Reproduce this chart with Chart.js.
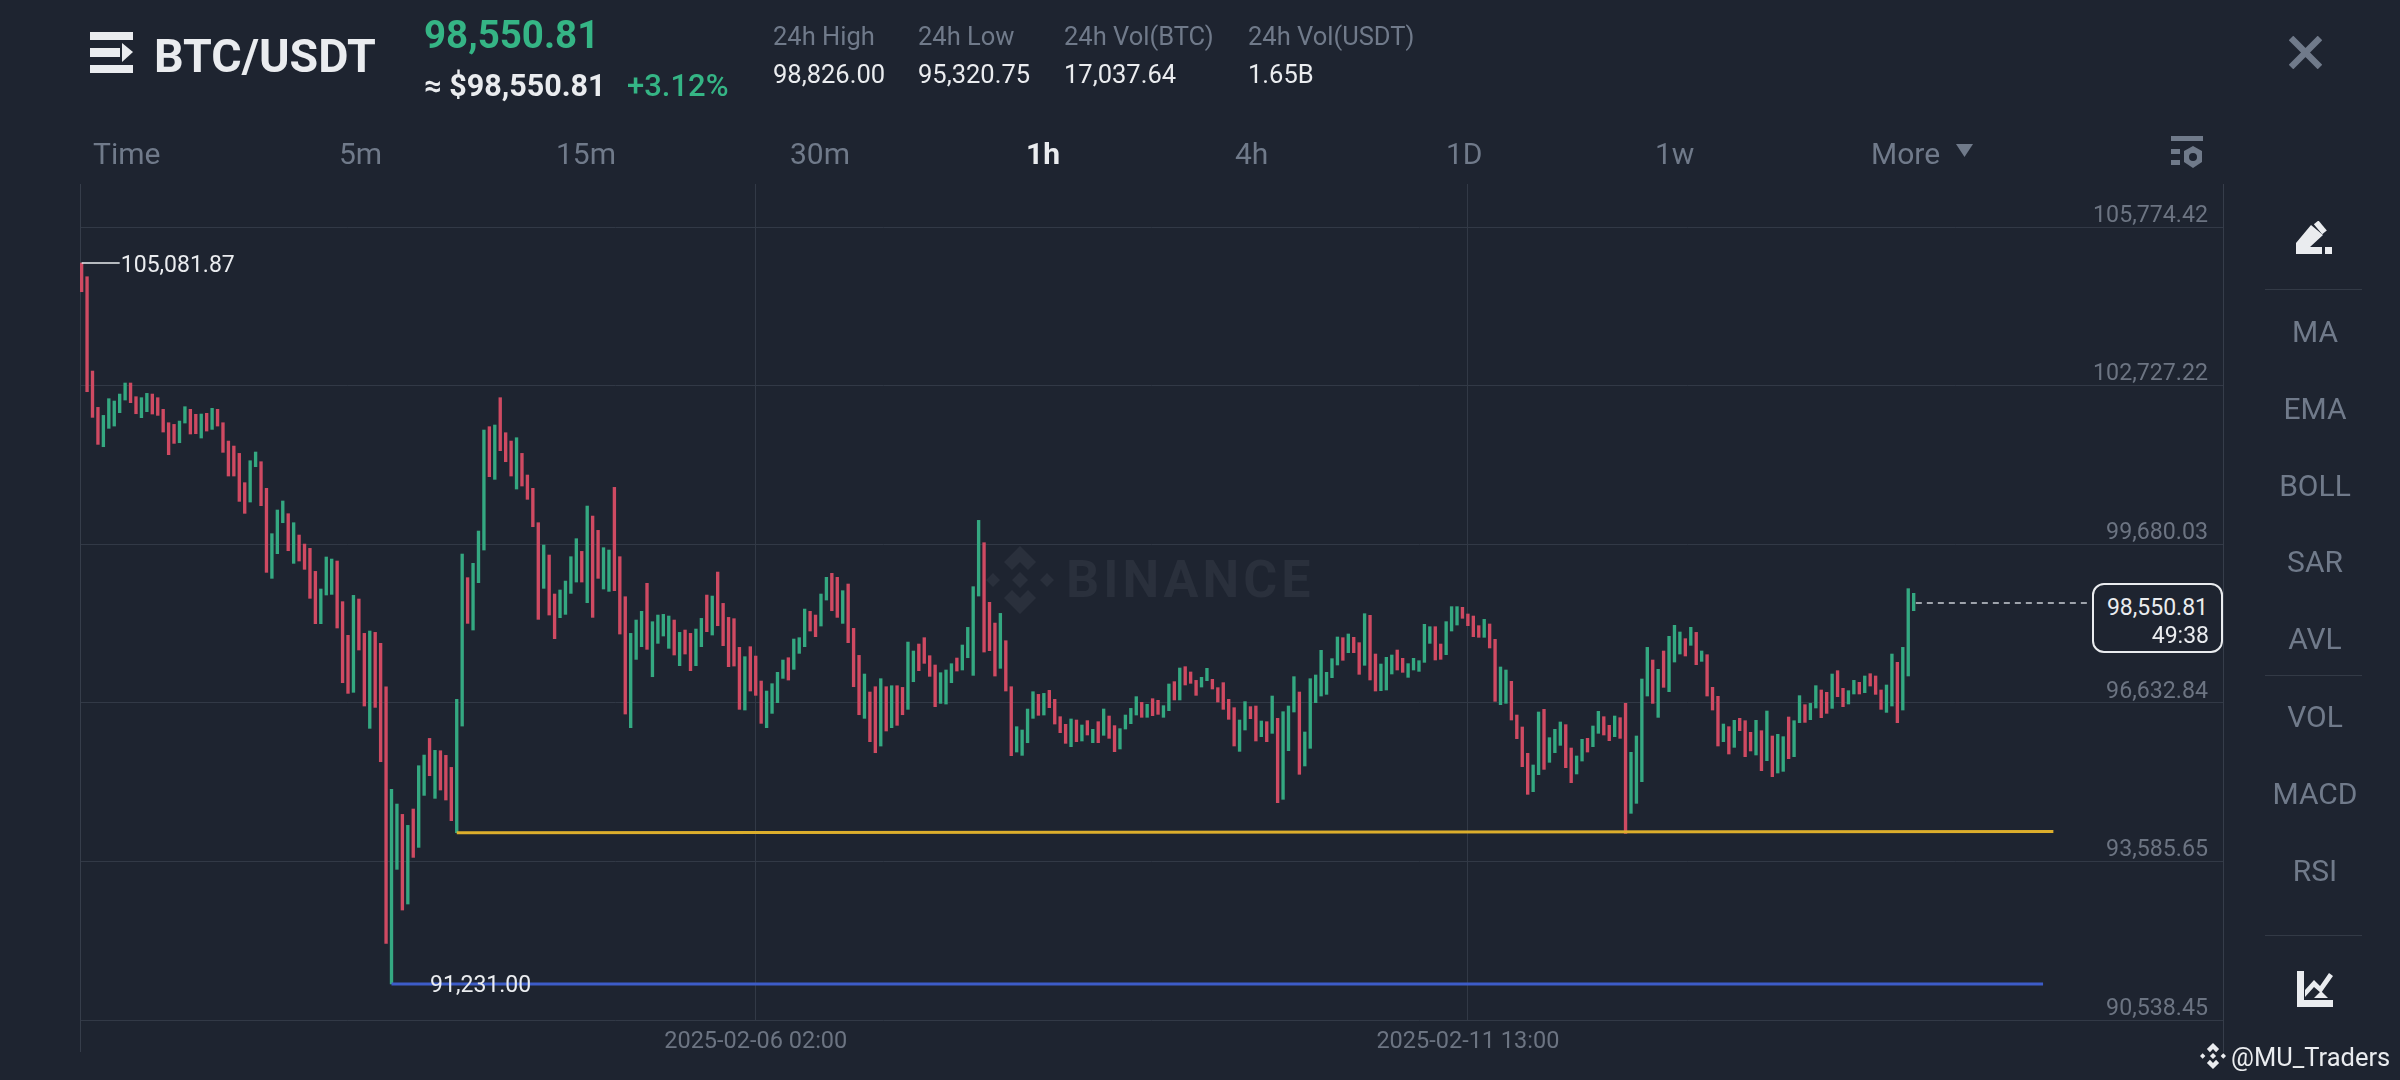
<!DOCTYPE html>
<html>
<head>
<meta charset="utf-8">
<title>BTC/USDT</title>
<script src="https://cdn.jsdelivr.net/npm/chart.js@4"></script>
<style>
  html, body { margin: 0; padding: 0; background: #1e2430; }
  body { width: 2400px; height: 1080px; overflow: hidden; position: relative; font-family: Roboto, sans-serif; color: #eaecef; }
  canvas { position: absolute; left: 0; top: 0; }
  .t { position: absolute; white-space: nowrap; transform: translateY(-50%); line-height: 1.2; }
  .g { color: #707a8a; }
  .tab { font-size: 30px; color: #707a8a; top: 153.5px; }
  .lbl { font-size: 25.5px; color: #707a8a; top: 36px; }
  .val { font-size: 25.5px; top: 74px; }
  .side { font-size: 30px; color: #707a8a; left: 2215px; width: 200px; text-align: center; }
  .hr { position: absolute; left: 2265px; width: 97px; height: 1px; background: #333a46; }
  svg { position: absolute; }
  #box { position: absolute; left: 2092px; top: 583px; width: 127px; height: 66px; border: 2px solid #eaecef; border-radius: 12px; background: #1e2430; }
</style>
</head>
<body>
<!-- watermark under the canvas -->
<svg style="left:986px;top:546px" width="68" height="68" viewBox="0 0 68 68" fill="#2a303c">
  <path d="M34 0 L50 16 L42 24 L34 16 L26 24 L18 16 Z M34 68 L18 52 L26 44 L34 52 L42 44 L50 52 Z M0 34 L7 27 L14 34 L7 41 Z M54 34 L61 27 L68 34 L61 41 Z M34 26 L42 34 L34 42 L26 34 Z"/>
</svg>
<div class="t" style="left:1066px;top:580px;font-size:52px;font-weight:700;color:#2a303c;letter-spacing:4px">BINANCE</div>

<canvas id="chart" width="2400" height="1080"></canvas>

<svg style="left:90px;top:32px" width="43" height="41" viewBox="0 0 43 41" fill="#eaecef">
  <rect x="0" y="0" width="43" height="8"/><rect x="0" y="16" width="30" height="9"/><path d="M32 11 L43 20 L32 30 Z"/><rect x="0" y="33" width="43" height="8"/>
</svg>
<div class="t" style="left:154px;top:57px;font-size:46.5px;font-weight:700">BTC/USDT</div>
<div class="t" style="left:424px;top:35px;font-size:38.5px;font-weight:700;color:#35b585">98,550.81</div>
<div class="t" style="left:424px;top:86px;font-size:30.5px;font-weight:700">≈ $98,550.81</div>
<div class="t" style="left:627px;top:86px;font-size:31px;font-weight:500;color:#35b585">+3.12%</div>

<div class="t lbl" style="left:773px">24h High</div>
<div class="t val" style="left:773px">98,826.00</div>
<div class="t lbl" style="left:918px">24h Low</div>
<div class="t val" style="left:918px">95,320.75</div>
<div class="t lbl" style="left:1064px">24h Vol(BTC)</div>
<div class="t val" style="left:1064px">17,037.64</div>
<div class="t lbl" style="left:1248px">24h Vol(USDT)</div>
<div class="t val" style="left:1248px">1.65B</div>

<div class="t tab" style="left:93px">Time</div>
<div class="t tab" style="left:339px">5m</div>
<div class="t tab" style="left:556px">15m</div>
<div class="t tab" style="left:790px">30m</div>
<div class="t tab" style="left:1026px;color:#eaecef;font-weight:700">1h</div>
<div class="t tab" style="left:1235px">4h</div>
<div class="t tab" style="left:1446px">1D</div>
<div class="t tab" style="left:1655px">1w</div>
<div class="t tab" style="left:1871px">More</div>
<svg style="left:1956px;top:144px" width="17" height="13" viewBox="0 0 17 13" fill="#707a8a"><path d="M0 0 H17 L8.5 13 Z"/></svg>
<svg style="left:2171px;top:136px" width="32" height="32" viewBox="0 0 32 32" fill="#707a8a">
  <rect x="0" y="0" width="32" height="5"/><rect x="0" y="13" width="9" height="5"/><rect x="0" y="24" width="9" height="5"/>
  <path fill-rule="evenodd" d="M22 10 L31 15 V26 L22 32 L13 26 V15 Z M22 17 A4 4 0 1 0 22.01 25 A4 4 0 1 0 22 17 Z"/>
</svg>
<svg style="left:2289px;top:36px" width="33" height="33" viewBox="0 0 33 33" stroke="#707a8a" stroke-width="6.5"><path d="M2 2 L31 31 M31 2 L2 31"/></svg>

<svg style="left:2296px;top:221px" width="37" height="33" viewBox="0 0 37 33" fill="#eaecef">
  <path d="M0 33 V22 L15 4 L27 14 L14 26 H26 V33 Z"/><rect x="21" y="0" width="6" height="13" transform="rotate(-40 24 6)"/><rect x="29" y="26" width="7" height="7"/>
</svg>
<div class="hr" style="top:289px"></div>
<div class="t side" style="top:332px">MA</div>
<div class="t side" style="top:409px">EMA</div>
<div class="t side" style="top:486px">BOLL</div>
<div class="t side" style="top:562px">SAR</div>
<div class="t side" style="top:639px">AVL</div>
<div class="hr" style="top:675px"></div>
<div class="t side" style="top:717px">VOL</div>
<div class="t side" style="top:794px">MACD</div>
<div class="t side" style="top:871px">RSI</div>
<div class="hr" style="top:935px"></div>
<svg style="left:2297px;top:971px" width="36" height="36" viewBox="0 0 36 36" fill="#eaecef">
  <path d="M0 0 H7 V29 H36 V36 H0 Z"/><path d="M8 19 L17 9 L23 15 L32 2 L36 5 L24 22 L17 16 L8 26 Z"/><path d="M17 27 L24 20 L31 27 Z"/>
</svg>

<div id="box"></div>
<div class="t" style="right:192px;top:608px;font-size:23px">98,550.81</div>
<div class="t" style="right:191px;top:636px;font-size:23px">49:38</div>

<svg style="left:2200px;top:1043px" width="26" height="26" viewBox="0 0 68 68" fill="#eaecef">
  <path d="M34 0 L50 16 L42 24 L34 16 L26 24 L18 16 Z M34 68 L18 52 L26 44 L34 52 L42 44 L50 52 Z M0 34 L7 27 L14 34 L7 41 Z M54 34 L61 27 L68 34 L61 41 Z M34 26 L42 34 L34 42 L26 34 Z"/>
</svg>
<div class="t" style="left:2231px;top:1057px;font-size:25.5px">@MU_Traders</div>

<script>
// hourly bars (high / low of each bar)
const highs = [
  105081.87,104819,103007,102309,102155,102476,102431,102565,102777,102777,
  102514,102495,102578,102565,102495,102271,102014,101982,102046,102322,
  102271,102175,102181,102194,102290,102271,102014,101662,101566,101425,
  100862,101284,101451,101265,100753,99882,100337,100510,100266,100093,
  99856,99683,99600,99158,98819,99434,99395,99357,98576,97929,
  98697,98627,97967,98012,97986,97775,96942,94969,94688,94489,
  94278,94592,95424,95629,95949,95719,95712,95623,95392,96699,
  99491,99037,99312,99933,101874,101938,101970,102495,101822,101662,
  101726,101425,101009,100753,100093,99664,99472,98723,98800,98972,
  99440,99786,99542,100413,100221,99946,99613,99568,100772,99440,
  98671,97967,98223,98390,98928,98191,98319,98332,98300,98223,
  97986,98031,97967,98050,98255,98703,98684,99145,98543,98274,
  98249,97698,97519,97711,97531,97051,96859,97000,97218,97455,
  97499,97858,97884,98434,98390,98319,98723,99043,99120,99043,
  98787,98915,98063,97544,97186,96840,96942,97096,96942,96961,
  96961,96929,97800,97628,97762,97884,97538,97359,97211,97263,
  97384,97493,97743,98082,98864,100138,99709,98563,98165,98351,
  97826,96942,96174,96110,96513,96846,96795,96814,96872,96699,
  96366,96219,96322,96302,96206,96290,96123,96270,96514,96379,
  96194,96136,96398,96526,96751,96642,96603,96712,96680,96578,
  96994,97039,97301,97327,97225,97064,97122,97295,97084,96924,
  97020,96699,96539,96302,96655,96559,96571,96283,96270,96763,
  96334,96462,96571,97135,96840,96072,97096,97167,97641,97218,
  97481,97897,97884,97955,97891,97788,98345,98313,97570,97378,
  97506,97551,97647,97487,97385,97487,97442,98140,98095,98095,
  97762,98192,98480,98480,98467,98339,98300,98115,98236,98147,
  97852,97321,97263,97045,96398,96168,95662,95438,96456,96507,
  95963,96123,96264,96213,95764,95611,95931,95950,96187,96469,
  96366,96200,96379,96347,96622,95681,95995,97090,97698,97455,
  97276,97628,97910,98121,97993,97865,98083,97986,97628,97557,
  96930,96757,96225,96174,96296,96334,96289,96065,96296,96097,
  96475,95995,96027,95982,96360,96289,96770,96597,96622,96962,
  96879,96834,97186,97250,96911,96866,97064,97026,97148,97192,
  97148,96879,96975,97570,97410,97698,98826,98736
];
const lows = [
  104531,102610,102117,101598,101553,101906,101950,102207,102450,102399,
  102187,102111,102226,102181,102155,101835,101400,101617,101630,102008,
  101797,101803,101720,101854,101886,101950,101445,100990,100990,100503,
  100273,100490,101169,100420,99139,99024,99498,100093,99555,99312,
  99357,99197,98640,98153,98153,98704,98716,98070,97019,96814,
  96834,97647,96571,96142,96545,95501,92011,91231,93433,92651,
  92767,93663,93855,94854,95232,94797,94957,94765,94368,94137,
  96186,98159,98031,98941,99568,100977,100926,101477,101265,100990,
  100740,100798,100542,100016,98236,98832,98319,97865,98268,98332,
  98735,98953,98953,98556,98274,99024,98819,98774,98787,97954,
  96417,96155,97467,97711,97660,97134,97775,97916,97679,97551,
  97346,97570,97250,97346,97711,97999,97935,98114,97730,97327,
  97339,96507,96494,96859,96776,96238,96155,96430,96635,97102,
  97070,97275,97583,97711,98012,97903,98108,98607,98402,98274,
  98159,97788,96942,96404,96334,95886,95674,95802,96091,96155,
  96200,96404,96507,97038,97250,97391,97141,96558,96622,96609,
  97019,97243,97263,97499,97160,98684,97608,97634,97147,97295,
  96859,95617,95687,95623,95866,96334,96392,96398,96539,96225,
  96059,95854,95790,95886,95899,96014,95867,95867,96008,95950,
  95694,95745,96129,96232,96398,96354,96354,96386,96411,96354,
  96482,96687,96687,96975,97007,96776,96936,97058,96898,96648,
  96507,96315,95803,95700,96110,96328,95899,95982,95886,96046,
  94714,94778,95713,96456,95259,95419,95758,96635,96763,96795,
  97116,97359,97449,97596,97596,97180,97353,97071,96859,96866,
  96879,97186,97263,97218,97122,97263,97237,97410,97775,97455,
  97468,97558,98012,98127,98256,98115,97903,97891,97891,97686,
  96661,96597,96623,96302,95944,95406,94874,94925,95252,95354,
  95489,95675,95815,95386,95098,95265,95514,95687,95790,96046,
  96014,95905,95982,95950,94125,94509,94701,95117,96763,96622,
  96353,96930,96847,97416,97570,97532,97737,97365,97429,96763,
  96494,95803,95886,95649,95777,96097,95598,95707,95630,95329,
  95521,95214,95284,95316,95559,95598,96251,96257,96309,96533,
  96347,96430,96526,96750,96558,96610,96802,96802,96827,96955,
  96795,96507,96449,96571,96251,96494,97148,98403
];
// 1 = green bar, 0 = red bar
const ups = [
  0,0,0,0,1,1,1,1,1,0, 0,1,1,0,0,0,0,0,1,1, 0,0,1,0,1,0,0,0,0,0, 0,1,1,0,0,1,1,1,0,1,
  0,0,0,0,1,1,1,0,0,0, 1,0,0,1,0,0,0,1,1,0, 1,0,1,1,0,1,0,0,0,1, 1,0,1,1,1,0,1,0,0,0,
  1,0,0,0,0,1,0,0,1,1, 1,1,0,1,0,0,1,1,0,0, 0,1,1,1,0,1,1,1,1,0, 1,0,0,1,1,0,1,0,0,0,
  0,0,1,0,0,0,1,1,1,1, 0,1,1,1,0,0,1,1,0,0, 1,0,0,0,1,0,0,1,0,1, 0,0,1,1,0,0,0,0,1,1,
  1,0,1,1,1,1,0,0,0,1, 0,0,1,1,1,1,0,1,0,0, 0,0,1,0,1,0,1,0,1,0, 0,1,1,1,1,0,1,0,0,1,
  1,0,1,0,0,0,1,1,0,0, 0,0,0,1,1,0,0,1,0,1, 0,1,1,1,0,1,1,1,1,1, 1,1,0,1,0,0,1,0,0,1,
  1,1,0,0,1,1,1,1,1,0, 0,1,1,1,0,0,0,0,1,0, 0,1,1,0,0,0,0,1,1,0, 1,1,1,0,0,1,1,0,1,1,
  0,0,1,0,0,1,1,1,1,0, 1,0,1,1,1,0,1,0,1,0, 0,0,1,0,1,0,0,0,1,0, 1,0,1,1,0,1,1,0,1,1,
  0,0,1,0,0,1,1,0,1,0, 0,0,1,1,0,1,1,1
];

const priceTicks = [90538.45, 93585.65, 96632.84, 99680.03, 102727.22, 105774.42];
const timeTickBars = [124, 255];
const timeTickLabels = ["2025-02-06 02:00", "2025-02-11 13:00"];

const lastPrice = 98550.81;
const rangeHigh = 105081.87;
const rangeLow = 91231.00;

// hand drawn levels on the chart, x in bars
const yellowLevel = [{ x: 69, y: 94137 }, { x: 362.7, y: 94160 }];
const blueLevel = [{ x: 57, y: 91231 }, { x: 360.8, y: 91231 }];
const lastPriceLine = [{ x: 337.4, y: lastPrice }, { x: 369.1, y: lastPrice }];
const highMarker = [{ x: 0, y: rangeHigh }, { x: 7, y: rangeHigh }];

const UP = "#34a881", DOWN = "#cf4a62", GRID = "#323946", AXIS_TEXT = "#6c7482";

function fmt(v) {
  return v.toLocaleString("en-US", { minimumFractionDigits: 2, maximumFractionDigits: 2 });
}

function lineSet(data, color, width, dash) {
  return { type: "line", data, borderColor: color, borderWidth: width, borderDash: dash || [], pointRadius: 0, order: 0, clip: false };
}

// axis edges run a bit below the plot, plus the two extreme price labels
const extras = {
  id: "extras",
  beforeDatasetsDraw(chart) {
    const { ctx, chartArea: a } = chart;
    ctx.save();
    ctx.strokeStyle = "#363d4a";
    ctx.lineWidth = 1;
    [a.left, a.right].forEach(x => {
      ctx.beginPath();
      ctx.moveTo(x + 0.5, a.top);
      ctx.lineTo(x + 0.5, a.bottom + 32);
      ctx.stroke();
    });
    ctx.restore();
  },
  afterDatasetsDraw(chart) {
    const { ctx, scales } = chart;
    ctx.save();
    ctx.fillStyle = "#eaecef";
    ctx.font = "23px Roboto";
    ctx.textBaseline = "middle";
    ctx.fillText(fmt(rangeHigh), scales.x.getPixelForValue(7.2), scales.y.getPixelForValue(rangeHigh) + 3);
    ctx.fillText(fmt(rangeLow), scales.x.getPixelForValue(64.1), scales.y.getPixelForValue(rangeLow) + 2);
    ctx.restore();
  }
};

new Chart(document.getElementById("chart"), {
  type: "bar",
  data: {
    datasets: [
      {
        data: highs.map((h, i) => ({ x: i, y: [lows[i], h] })),
        backgroundColor: ups.map(u => (u ? UP : DOWN)),
        borderWidth: 0,
        barThickness: 2.7,
        order: 1
      },
      lineSet(highMarker, "#eaecef", 1.5),
      lineSet(yellowLevel, "#dcae2c", 3),
      lineSet(blueLevel, "#3d5cc8", 3),
      lineSet(lastPriceLine, "#c9cdd4", 1.5, [6, 5])
    ]
  },
  options: {
    responsive: false,
    animation: false,
    devicePixelRatio: 1,
    layout: { padding: { left: 80, right: 177, top: 184, bottom: 0 } },
    plugins: { legend: { display: false }, tooltip: { enabled: false } },
    scales: {
      x: {
        type: "linear",
        offset: false,
        min: -0.3,
        max: 393.9,
        border: { display: false },
        grid: { color: GRID, lineWidth: 1, drawTicks: false, offset: false },
        afterBuildTicks: s => { s.ticks = timeTickBars.map(v => ({ value: v })); },
        afterFit: s => { s.height = 60; },
        ticks: {
          autoSkip: false,
          maxRotation: 0,
          padding: 8,
          color: AXIS_TEXT,
          font: { family: "Roboto", size: 23.5 },
          callback: v => timeTickLabels[timeTickBars.indexOf(v)]
        }
      },
      y: {
        position: "right",
        min: 90538.45,
        max: 106600.6,
        border: { display: false },
        grid: { color: GRID, lineWidth: 1, drawTicks: false },
        afterBuildTicks: s => { s.ticks = priceTicks.map(v => ({ value: v })); },
        afterFit: s => { s.width = 0; },
        ticks: {
          mirror: true,
          padding: -15,
          labelOffset: -11,
          color: AXIS_TEXT,
          font: { family: "Roboto", size: 23.2 },
          callback: v => fmt(v)
        }
      }
    }
  },
  plugins: [extras]
});
</script>
</body>
</html>
